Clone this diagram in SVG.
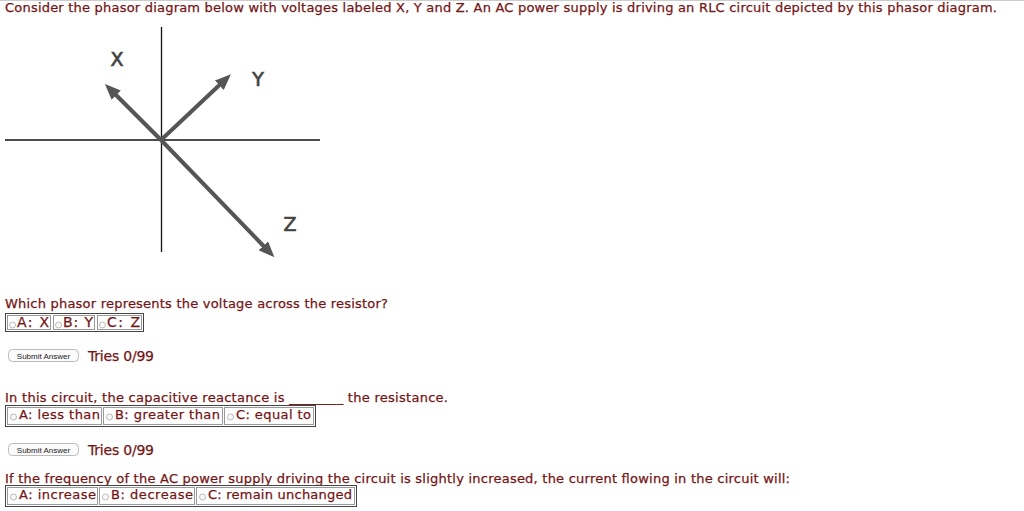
<svg xmlns="http://www.w3.org/2000/svg" width="1024" height="511" viewBox="0 0 1024 511">
<style>
.t{font-family:"DejaVu Sans",Verdana,sans-serif;font-size:13px;fill:#741515;stroke:#741515;stroke-width:0.25}
.o{font-size:14px}
.lbl{font-family:"DejaVu Sans",Verdana,sans-serif;font-size:19px;fill:#444;stroke:#444;stroke-width:0.7}
.axis{stroke:#111;stroke-width:1.3;fill:none}
.ph{stroke:#555;stroke-width:4;fill:none}
.box{fill:#fff;stroke:#444;stroke-width:1}
.cell{fill:none;stroke:#999;stroke-width:1}
.rad{fill:#fafafa;stroke:#aaa;stroke-width:0.8}
.btn{fill:#fbfbfb;stroke:#bbb;stroke-width:1}
.bt{font-family:"Liberation Sans",Arial,sans-serif;font-size:8px;fill:#222}
.tr{font-family:"DejaVu Sans",Verdana,sans-serif;font-size:14px;fill:#741515;stroke:#741515;stroke-width:0.25}
</style>
<defs>
<marker id="ah" markerUnits="userSpaceOnUse" markerWidth="16" markerHeight="13" refX="1" refY="6.5" orient="auto">
<path d="M0,0 L16,6.5 L0,13 z" fill="#555"/>
</marker>
</defs>
<rect width="1024" height="511" fill="#fff"/>
<line x1="0" y1="0.5" x2="1024" y2="0.5" stroke="#ccc"/>
<text class="t" x="5" y="12" textLength="992">Consider the phasor diagram below with voltages labeled X, Y and Z. An AC power supply is driving an RLC circuit depicted by this phasor diagram.</text>

<g id="connectors">
<line class="axis" x1="161.5" y1="27" x2="161.5" y2="252"/>
<line class="axis" x1="5" y1="140" x2="320" y2="140"/>
<line class="ph" x1="161" y1="140" x2="115.5" y2="94.5" marker-end="url(#ah)"/>
<line class="ph" x1="161" y1="140" x2="220" y2="84.5" marker-end="url(#ah)"/>
<line class="ph" x1="161" y1="140" x2="264" y2="246.5" marker-end="url(#ah)"/>
</g>
<g id="label-X"><text class="lbl" x="117" y="66" text-anchor="middle">X</text></g>
<g id="label-Y"><text class="lbl" x="258" y="86" text-anchor="middle">Y</text></g>
<g id="label-Z"><text class="lbl" x="290" y="231" text-anchor="middle">Z</text></g>

<g id="q1">
<text class="t" x="5" y="308" textLength="383">Which phasor represents the voltage across the resistor?</text>
<rect class="box" x="5.5" y="313.5" width="138" height="18"/>
<rect class="cell" x="7.5" y="315.5" width="43" height="14"/>
<rect class="cell" x="53.5" y="315.5" width="41" height="14"/>
<rect class="cell" x="97.5" y="315.5" width="44" height="14"/>
<circle class="rad" cx="12.5" cy="325" r="3"/>
<circle class="rad" cx="58.5" cy="325" r="3"/>
<circle class="rad" cx="102.5" cy="325" r="3"/>
<text class="t o" x="17" y="327" textLength="32">A: X</text>
<text class="t o" x="63" y="327" textLength="30">B: Y</text>
<text class="t o" x="107" y="327" textLength="33">C: Z</text>
</g>
<g id="submit1">
<rect class="btn" x="8.5" y="349.5" width="70" height="12" rx="4"/>
<text class="bt" x="43.5" y="358.5" text-anchor="middle">Submit Answer</text>
<text class="tr" x="88" y="360.5" textLength="66">Tries 0/99</text>
</g>

<g id="q2">
<text class="t" x="5" y="402" textLength="443">In this circuit, the capacitive reactance is ________ the resistance.</text>
<rect class="box" x="5.5" y="405.5" width="310" height="21"/>
<rect class="cell" x="7.5" y="407.5" width="94" height="17"/>
<rect class="cell" x="103.5" y="407.5" width="119" height="17"/>
<rect class="cell" x="224.5" y="407.5" width="89" height="17"/>
<circle class="rad" cx="13.5" cy="417" r="3"/>
<circle class="rad" cx="109.5" cy="417" r="3"/>
<circle class="rad" cx="230.5" cy="417" r="3"/>
<text class="t" x="19" y="419" textLength="81">A: less than</text>
<text class="t" x="115" y="419" textLength="105">B: greater than</text>
<text class="t" x="236" y="419" textLength="75">C: equal to</text>
</g>
<g id="submit2">
<rect class="btn" x="8.5" y="443.5" width="70" height="12" rx="4"/>
<text class="bt" x="43.5" y="452.5" text-anchor="middle">Submit Answer</text>
<text class="tr" x="88" y="454.5" textLength="66">Tries 0/99</text>
</g>

<g id="q3">
<text class="t" x="5" y="483" textLength="785">If the frequency of the AC power supply driving the circuit is slightly increased, the current flowing in the circuit will:</text>
<rect class="box" x="5.5" y="485.5" width="351" height="21"/>
<rect class="cell" x="7.5" y="487.5" width="90" height="17"/>
<rect class="cell" x="99.5" y="487.5" width="95" height="17"/>
<rect class="cell" x="196.5" y="487.5" width="158" height="17"/>
<circle class="rad" cx="13.5" cy="497" r="3"/>
<circle class="rad" cx="105.5" cy="497" r="3"/>
<circle class="rad" cx="202.5" cy="497" r="3"/>
<text class="t" x="19" y="499" textLength="77">A: increase</text>
<text class="t" x="111" y="499" textLength="82">B: decrease</text>
<text class="t" x="208" y="499" textLength="144">C: remain unchanged</text>
</g>
</svg>
